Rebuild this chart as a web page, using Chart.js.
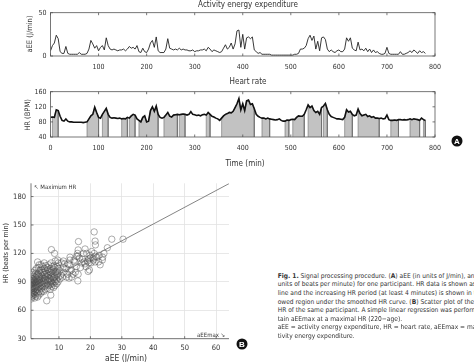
<!DOCTYPE html>
<html><head><meta charset="utf-8">
<script src="https://cdn.jsdelivr.net/npm/chart.js@4/dist/chart.umd.min.js"></script>
<style>
html,body{margin:0;padding:0;background:#fff;}
#wrap{position:relative;width:474px;height:362px;overflow:hidden;background:#fff;font-family:'Liberation Sans Narrow','DejaVu Sans Condensed','Liberation Sans',Arial,sans-serif;color:#333;}
canvas{position:absolute;}
.t{position:absolute;white-space:nowrap;transform:translate(-50%,-50%);line-height:1;}
.r{transform:translate(-50%,-50%) rotate(-90deg);}
.badge{position:absolute;width:11px;height:11px;border-radius:50%;background:#111;color:#fff;font-weight:bold;font-size:8px;line-height:11px;text-align:center;transform:translate(-50%,-50%);font-family:'Liberation Sans',Arial,sans-serif;}
.cap{position:absolute;left:277.7px;white-space:nowrap;font-size:6.6px;line-height:1;transform:translateY(-50%);color:#333;}
</style></head><body>
<div id="wrap">
<canvas id="cA1" width="474" height="74" style="left:0;top:0"></canvas>
<canvas id="cA2" width="474" height="80" style="left:0;top:75px"></canvas>
<canvas id="cB" width="250" height="192" style="left:0;top:170px"></canvas>

<div class="t" style="left:248px;top:4.5px;font-size:8px">Activity energy expenditure</div>
<div class="t r" style="left:30px;top:34px;font-size:7.5px">aEE (J/min)</div>
<div class="t" style="left:248px;top:82px;font-size:8px">Heart rate</div>
<div class="t r" style="left:28px;top:115px;font-size:7.5px">HR (BPM)</div>
<div class="t" style="left:245px;top:164px;font-size:8px">Time (min)</div>
<div class="badge" style="left:457px;top:140.5px">A</div>

<div class="t r" style="left:6px;top:253px;font-size:7px">HR (beats per min)</div>
<div class="t" style="left:126px;top:358px;font-size:8.5px">aEE (J/min)</div>
<div class="t" style="left:34px;top:184px;font-size:6px;transform:none">&#8598; Maximum HR</div>
<div class="t" style="left:197px;top:332px;font-size:6px;transform:none">aEEmax &#8600;</div>
<div class="badge" style="left:242px;top:343.5px">B</div>

<div class="cap" style="top:275.7px"><b>Fig. 1.</b> Signal processing procedure. (<b>A</b>) aEE (in units of J/min), and HR (in</div>
<div class="cap" style="top:284.3px">units of beats per minute) for one participant. HR data is shown as a smoothed</div>
<div class="cap" style="top:292.9px">line and the increasing HR period (at least 4 minutes) is shown in the shad-</div>
<div class="cap" style="top:301.5px">owed region under the smoothed HR curve. (<b>B</b>) Scatter plot of the aEE and</div>
<div class="cap" style="top:310.1px">HR of the same participant. A simple linear regression was performed to ob-</div>
<div class="cap" style="top:318.7px">tain aEEmax at a maximal HR (220&minus;age).</div>
<div class="cap" style="top:327.3px">aEE = activity energy expenditure, HR = heart rate, aEEmax = maximal ac-</div>
<div class="cap" style="top:335.9px">tivity energy expenditure.</div>
</div>
<script>
// ---- Data ----
const sampleStepMin = 4; // minutes between samples
const timeTicks = [0,100,200,300,400,500,600,700,800];
const aeeTicks = [0,50];
const hrTicks = [40,80,120,160];
const aeeValues = [6,12,15,24,20,5,3,3,11,3,2,2,2,2,2,4,2,2,2,3,
8,18,14,9,12,6,10,12,7,21,12,8,7,8,7,6,7,7,8,6,
8,11,9,10,8,12,5,4,9,5,4,8,15,18,10,22,6,4,4,4,
8,20,9,8,7,8,7,9,7,8,7,7,6,6,7,5,6,6,7,7,
8,6,10,8,5,7,6,5,4,5,9,13,8,10,15,8,14,29,30,10,
25,8,21,22,20,22,7,5,3,4,2,2,2,2,2,1,1,1,1,1,
1,1,1,1,1,1,1,2,2,3,8,8,9,12,20,24,18,23,8,17,
6,21,22,19,8,5,7,5,4,6,7,5,5,8,21,17,21,9,7,6,
16,7,8,6,9,5,8,4,7,4,5,3,2,2,3,10,3,2,2,2,
2,2,5,2,2,3,4,6,4,7,5,3,6,4,5,3];
const hrValues = [92,93,92,112,110,95,84,82,88,82,80,80,79,79,79,79,79,78,79,80,
88,96,100,119,105,92,90,100,108,116,100,92,90,91,90,89,90,88,89,88,
92,90,96,100,98,88,84,80,92,96,80,82,110,120,108,122,100,92,90,92,
98,105,95,93,98,99,100,99,100,101,100,98,100,107,100,99,97,98,96,99,
100,98,105,100,95,93,90,88,84,90,96,100,102,105,104,108,118,128,142,112,
128,110,136,138,126,128,115,100,95,92,90,90,88,90,88,87,86,85,86,88,
84,82,82,85,84,86,87,86,92,96,95,95,100,112,125,118,122,110,105,108,
100,118,122,129,112,100,94,92,90,88,88,87,86,92,112,106,108,100,96,98,
114,102,96,98,100,94,96,92,94,90,90,89,90,88,89,98,86,84,84,85,
84,86,86,85,86,85,86,88,86,88,87,86,84,90,86,84];
const risingStarts = [4,76,108,148,164,184,236,268,324,356,440,488,504,536,568,612,640,708,748,776];
const risingEnds   = [16,100,120,160,176,224,264,280,332,424,456,496,528,564,576,628,684,724,768,780];

const scatterAEE = [1.2,1.5,1.3,1.8,1.2,1.6,2.0,1.3,1.7,1.2,1.9,1.4,1.6,1.2,1.8,1.4,1.2,1.7,1.3,1.9,1.5,1.3,1.8,1.5,1.7,1.2,1.4,1.9,1.6,1.2,
2.3,2.6,2.2,2.8,2.4,2.7,2.2,2.9,2.5,2.3,2.8,2.5,2.2,2.7,2.4,2.9,2.6,2.3,2.8,2.5,2.7,
3.2,3.6,3.3,3.8,3.1,3.5,3.9,3.3,3.7,3.2,3.6,3.9,3.4,3.7,3.2,3.6,3.9,3.4,3.7,3.2,3.5,3.8,
4.2,4.6,4.3,4.8,4.4,4.1,4.7,4.3,4.8,4.5,4.2,4.7,4.4,4.8,4.3,4.6,
5.2,5.6,5.3,5.8,5.4,5.1,5.7,5.3,5.8,5.5,5.2,5.7,5.4,5.8,5.3,5.6,
6.1,6.3,6.7,6.2,6.8,6.4,6.9,6.3,6.6,6.2,6.8,6.5,6.3,6.7,6.5,
7.4,7.2,7.7,7.3,7.8,7.5,7.2,7.7,7.4,7.9,7.3,7.6,7.2,7.8,7.5,7.6,7.4,
8.3,8.7,8.2,8.8,8.5,8.2,8.7,8.4,8.9,8.3,8.7,8.4,8.8,8.6,8.5,
9.3,9.7,9.2,9.8,9.4,9.6,9.3,9.8,9.5,9.8,9.6,
10.3,11.1,10.6,11.5,10.2,11.3,11.8,10.8,11.4,
12.4,13.2,12.8,13.6,12.3,13.3,12.9,13.5,13.5,
14.0,14.5,15.2,14.0,15.5,15.0,14.8,15.6,15.9,
16.0,16.1,16.8,17.2,17.4,16.5,16.0,17.8,16.1,16.2,18.0,
19.3,19.7,18.6,18.3,19.1,19.4,19.9,19.9,18.8,18.3,19.5,
20.2,21.5,21.0,20.8,21.6,20.4,21.2,21.6,21.5,21.2,22.1,
23.1,22.6,23.8,23.9,22.8,24.3,25.4,26.8,30.4];
const scatterHR = [72,74,75,76,77,78,79,80,81,82,83,84,85,86,87,88,89,90,91,92,93,94,96,98,100,79,83,86,89,92,
73,75,77,79,80,82,83,85,86,88,89,90,91,93,95,97,99,102,104,84,87,
74,76,78,80,82,84,85,87,88,90,92,93,95,96,98,100,102,105,108,111,89,91,
78,80,83,85,87,89,90,92,94,96,98,100,103,106,108,88,
80,82,85,87,89,91,92,94,96,98,100,102,104,107,110,93,
70,83,86,88,90,92,94,95,97,99,101,103,105,108,91,
76,82,85,87,89,91,93,95,97,99,100,102,104,106,110,124,90,
84,86,88,90,92,94,96,98,100,103,105,107,112,120,95,
88,90,92,95,97,99,101,104,106,110,113,
93,95,97,100,102,105,109,110,112,
95,94,98,102,104,108,109,113,116,
95,98,100,102.5,106,111,113,117,120,
91,98,105,110,114,115,117,120,123.7,132.5,111,
101,102.5,106,109,112,114,115,118,120,124.7,110,
110,111,113,115,117,122,120,129,133,142.7,116,
108,111,113,116,118,120,126,135,135];
const scatterXTicks = [10,20,30,40,50,60];
const scatterYTicks = [30,60,90,120,150,180];
const aeeMin = 1.1, aeeMax = 64.1;   // aEE axis range (aEEmax)
const hrMaxAge = 194;                 // maximal HR (220 - age)
const regSlope = 1.77, regIntercept = 80.2;

// ---- Helpers ----
const FONT = "'Liberation Sans Narrow','DejaVu Sans Condensed','Liberation Sans',Arial,sans-serif";
Chart.defaults.font.family = FONT;
Chart.defaults.color = '#333';
const times = aeeValues.map((_, i) => i * sampleStepMin);
const aeePts = aeeValues.map((v, i) => ({x: times[i], y: v}));
const hrPts = hrValues.map((v, i) => ({x: times[i], y: v}));
const fillPts = [];
risingStarts.forEach((s, k) => {
  const e = risingEnds[k];
  fillPts.push({x: s, y: 40});
  hrPts.forEach(p => { if (p.x >= s && p.x <= e) fillPts.push({x: p.x, y: p.y}); });
  fillPts.push({x: e, y: 40});
  fillPts.push({x: e + 0.01, y: null});
});

const framePlugin = {
  id: 'frame',
  afterDatasetsDraw(chart, args, o) {
    if (!o || !o.on) return;
    const {ctx, chartArea: a, scales: {x, y}} = chart;
    ctx.save();
    ctx.strokeStyle = '#555'; ctx.lineWidth = 0.8;
    if (o.box) ctx.strokeRect(a.left, a.top, a.right - a.left, a.bottom - a.top);
    else { ctx.beginPath(); ctx.moveTo(a.left, a.top); ctx.lineTo(a.left, a.bottom); ctx.lineTo(a.right, a.bottom); ctx.stroke(); }
    ctx.beginPath();
    x.ticks.forEach(t => { const px = x.getPixelForValue(t.value);
      ctx.moveTo(px, a.bottom); ctx.lineTo(px, a.bottom - 2.5);
      if (o.box) { ctx.moveTo(px, a.top); ctx.lineTo(px, a.top + 2.5); } });
    y.ticks.forEach(t => { const py = y.getPixelForValue(t.value);
      ctx.moveTo(a.left, py); ctx.lineTo(a.left + 2.5, py);
      if (o.box) { ctx.moveTo(a.right, py); ctx.lineTo(a.right - 2.5, py); } });
    ctx.stroke();
    ctx.restore();
  }
};

function fixW(w) { return s => { s.width = w; }; }
function fixH(h) { return s => { s.height = h; }; }
const tickFont = {size: 7};

// ---- Panel A: aEE ----
new Chart(document.getElementById('cA1'), {
  type: 'line',
  data: {datasets: [{data: aeePts, borderColor: '#222', borderWidth: 0.9, pointRadius: 0, fill: false, tension: 0}]},
  options: {
    responsive: false, animation: false, devicePixelRatio: 1,
    layout: {autoPadding: false, padding: {left: 0, top: 12.7, right: 474 - 435, bottom: 0}},
    plugins: {legend: {display: false}, tooltip: {enabled: false}, frame: {on: true, box: true}},
    scales: {
      x: {type: 'linear', min: 0, max: 800, afterFit: fixH(18), grid: {display: false, drawTicks: false}, border: {display: false},
          afterBuildTicks: s => { s.ticks = timeTicks.map(v => ({value: v})); },
          ticks: {font: tickFont, padding: 6.5, maxRotation: 0, callback: v => v === 0 ? '' : v}},
      y: {min: 0, max: 50, afterFit: fixW(50.5), grid: {display: false, drawTicks: false}, border: {display: false},
          afterBuildTicks: s => { s.ticks = aeeTicks.map(v => ({value: v})); },
          ticks: {font: tickFont, padding: 4}}
    }
  },
  plugins: [framePlugin]
});

// ---- Panel A: HR ----
new Chart(document.getElementById('cA2'), {
  type: 'line',
  data: {datasets: [
    {data: hrPts, borderColor: '#111', borderWidth: 1.6, pointRadius: 0, fill: false, tension: 0, order: 0},
    {data: fillPts, borderColor: '#666', borderWidth: 0.6, backgroundColor: '#c2c2c2', pointRadius: 0, fill: {value: 40}, spanGaps: false, tension: 0, order: 1}
  ]},
  options: {
    responsive: false, animation: false, devicePixelRatio: 1,
    layout: {autoPadding: false, padding: {left: 0, top: 16.7, right: 474 - 435, bottom: 0}},
    plugins: {legend: {display: false}, tooltip: {enabled: false}, frame: {on: true, box: true}},
    scales: {
      x: {type: 'linear', min: 0, max: 800, afterFit: fixH(18), grid: {display: false, drawTicks: false}, border: {display: false},
          afterBuildTicks: s => { s.ticks = timeTicks.map(v => ({value: v})); },
          ticks: {font: tickFont, padding: 6.5, maxRotation: 0}},
      y: {min: 40, max: 160, afterFit: fixW(50.5), grid: {display: false, drawTicks: false}, border: {display: false},
          afterBuildTicks: s => { s.ticks = hrTicks.map(v => ({value: v})); },
          ticks: {font: tickFont, padding: 4}}
    }
  },
  plugins: [framePlugin]
});

// ---- Panel B: scatter ----
const regLine = [aeeMin, aeeMax].map(x => ({x, y: regIntercept + regSlope * x}));
new Chart(document.getElementById('cB'), {
  type: 'scatter',
  data: {datasets: [
    {type: 'line', data: regLine, borderColor: '#777', borderWidth: 0.9, pointRadius: 0, fill: false, order: 0},
    {data: scatterAEE.map((x, i) => ({x, y: scatterHR[i]})), pointStyle: 'circle', pointRadius: 3.2,
     pointBorderWidth: 0.6, pointBorderColor: 'rgba(80,80,80,0.8)', pointBackgroundColor: 'rgba(0,0,0,0)', order: 1}
  ]},
  options: {
    responsive: false, animation: false, devicePixelRatio: 1,
    layout: {autoPadding: false, padding: {left: 0, top: 13.3, right: 250 - 229, bottom: 0}},
    plugins: {legend: {display: false}, tooltip: {enabled: false}, frame: {on: true, box: false}},
    scales: {
      x: {type: 'linear', min: aeeMin, max: aeeMax, afterFit: fixH(192 - 168.7),
          grid: {color: '#e2e2e2', lineWidth: 0.8, drawTicks: false}, border: {display: false},
          afterBuildTicks: s => { s.ticks = scatterXTicks.map(v => ({value: v})); },
          ticks: {font: {size: 7.5}, padding: 5, maxRotation: 0}},
      y: {min: 30, max: hrMaxAge, afterFit: fixW(31),
          grid: {color: '#e2e2e2', lineWidth: 0.8, drawTicks: false}, border: {display: false},
          afterBuildTicks: s => { s.ticks = scatterYTicks.map(v => ({value: v})); },
          ticks: {font: {size: 7.5}, padding: 5}}
    }
  },
  plugins: [framePlugin]
});
</script>
</body></html>
